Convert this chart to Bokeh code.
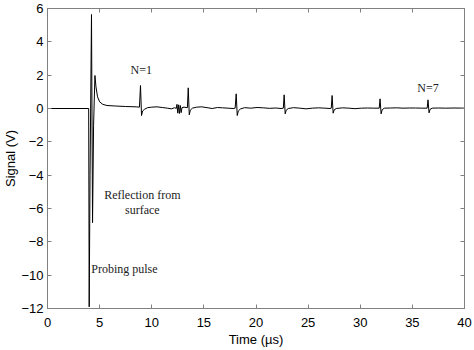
from bokeh.plotting import figure
from bokeh.models import Range1d, LinearAxis, SingleIntervalTicker, ColumnDataSource
from bokeh.core.properties import value
from bokeh.embed import file_html
from bokeh.resources import INLINE

time_us = [0, 3.95, 4.0, 4.08, 4.22, 4.32, 4.42, 4.55, 4.65, 4.8, 5.0, 5.3, 5.7, 6.5, 7.5, 8.5,
           8.82, 8.92, 9.02, 9.12, 9.3, 9.6, 10.0, 10.5, 11.0, 11.5, 11.9, 12.2,
           12.35, 12.42, 12.5, 12.58, 12.66, 12.74, 12.82, 12.9, 13.1, 13.42, 13.5, 13.6, 13.7, 13.9,
           14.3, 14.8, 15.3, 15.8, 16.3, 16.8, 17.3, 17.8, 18.0, 18.1, 18.2, 18.3, 18.5, 18.9,
           19.5, 20.1, 20.7, 21.3, 21.9, 22.4, 22.62, 22.7, 22.8, 22.9, 23.1, 23.6, 24.2, 24.8,
           25.4, 26.0, 26.6, 27.1, 27.22, 27.3, 27.4, 27.5, 27.7, 28.3, 28.9, 29.5, 30.1, 30.7,
           31.3, 31.82, 31.9, 32.0, 32.1, 32.3, 32.9, 33.5, 34.1, 34.7, 35.3, 35.9, 36.42, 36.5,
           36.6, 36.7, 36.9, 37.5, 38.2, 39.0, 40.0]
signal_v = [0, 0, -11.9, -4.0, 5.64, -6.85, -1.0, 1.98, 1.3, 0.7, 0.4, 0.25, 0.18, 0.15, 0.12, 0.1,
            0.08, 1.38, -0.42, -0.15, -0.05, 0.05, 0.08, 0.1, 0.06, 0.02, -0.02, 0.05,
            0.0, 0.25, -0.28, 0.22, -0.3, 0.18, -0.25, 0.05, 0.08, 0.05, 1.24, -0.38, -0.1, 0.02,
            0.08, 0.1, 0.05, 0.0, 0.06, 0.04, 0.02, 0.0, 0.02, 0.88, -0.42, -0.15, -0.03, 0.05,
            0.02, 0.06, 0.04, 0.01, 0.03, 0.0, 0.02, 0.82, -0.32, -0.1, 0.0, 0.05, 0.02, -0.02,
            0.02, 0.04, 0.02, 0.0, 0.02, 0.78, -0.28, -0.08, 0.0, 0.04, 0.02, -0.01, 0.02, 0.03,
            0.02, 0.02, 0.58, -0.32, -0.08, 0.02, 0.03, 0.04, 0.02, 0.03, 0.03, 0.02, 0.02, 0.52,
            -0.26, -0.05, 0.02, 0.03, 0.02, 0.03, 0.02]

label_text = ["N=1", "N=7", "Reflection from", "surface", "Probing pulse"]
label_x = [9.0, 36.5, 9.1, 9.1, 4.2]
label_y = [2.3, 1.25, -5.2, -6.1, -9.6]
label_align = ["center", "center", "center", "center", "left"]

AXC = "#808080"

p = figure(width=474, height=350, output_backend="svg", toolbar_location=None,
           x_range=Range1d(0, 40), y_range=Range1d(-12, 6),
           min_border_left=44, min_border_right=10, min_border_top=8, min_border_bottom=42,
           x_axis_label="Time (µs)", y_axis_label="Signal (V)")
p.background_fill_color = "white"
p.border_fill_color = "white"
p.outline_line_color = AXC
p.xgrid.visible = False
p.ygrid.visible = False

p.line(time_us, signal_v, line_color="black", line_width=1.0)

src = ColumnDataSource(dict(x=label_x, y=label_y, t=label_text, a=label_align))
p.text(x="x", y="y", text="t", text_align="a", text_baseline="middle", source=src,
       text_font=value("Liberation Serif"), text_font_size="12px", text_color="#222222")

for ax in (p.xaxis[0], p.yaxis[0]):
    ax.axis_line_color = AXC
    ax.major_tick_line_color = AXC
    ax.major_tick_in = 4
    ax.major_tick_out = 0
    ax.minor_tick_line_color = None
    ax.major_label_text_font = "Liberation Sans"
    ax.major_label_text_font_size = "13px"
    ax.major_label_text_color = "black"
    ax.axis_label_text_font = "Liberation Sans"
    ax.axis_label_text_font_size = "13px"
    ax.axis_label_text_font_style = "normal"
    ax.axis_label_text_color = "black"
    ax.major_label_standoff = 0
    ax.axis_label_standoff = 0

p.xaxis[0].major_label_standoff = 5
p.xaxis[0].axis_label_standoff = 2
p.xaxis[0].ticker = SingleIntervalTicker(interval=5)
p.yaxis[0].ticker = SingleIntervalTicker(interval=2)

top = LinearAxis(ticker=SingleIntervalTicker(interval=5), major_label_text_color=None,
                 major_label_text_font_size="1px",
                 axis_line_color=AXC, major_tick_line_color=AXC, major_tick_in=4, major_tick_out=0,
                 minor_tick_line_color=None, major_label_standoff=0)
right = LinearAxis(ticker=SingleIntervalTicker(interval=2), major_label_text_color=None,
                   major_label_text_font_size="1px",
                   axis_line_color=AXC, major_tick_line_color=AXC, major_tick_in=4, major_tick_out=0,
                   minor_tick_line_color=None, major_label_standoff=0)
p.add_layout(top, "above")
p.add_layout(right, "right")

open("out.html", "w").write(file_html(p, INLINE))
